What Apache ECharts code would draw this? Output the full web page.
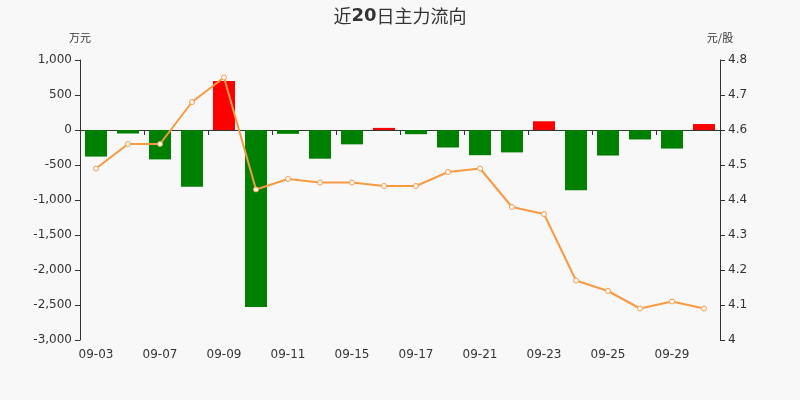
<!DOCTYPE html>
<html>
<head>
<meta charset="utf-8">
<script src="https://cdn.jsdelivr.net/npm/echarts@6/dist/echarts.min.js"></script>
<style>html,body{margin:0;padding:0;background:#f8f8f8;}#c{width:800px;height:400px;}</style>
</head>
<body>
<div id="c"></div>
<script>
var categories = ['09-03','09-04','09-07','09-08','09-09','09-10','09-11','09-14','09-15','09-16','09-17','09-18','09-21','09-22','09-23','09-24','09-25','09-28','09-29','09-30'];
var flowValues = [-380,-50,-420,-810,700,-2530,-55,-410,-205,30,-60,-250,-360,-320,125,-860,-365,-135,-265,85];
var priceValues = [4.49,4.56,4.56,4.68,4.75,4.43,4.46,4.45,4.45,4.44,4.44,4.48,4.49,4.38,4.36,4.17,4.14,4.09,4.11,4.09];
var leftTicks = {min:-3000, max:1000, interval:500};
var rightTicks = {min:4, max:4.8, interval:0.1};

var chart = echarts.init(document.getElementById('c'));
var labelColor = '#333';
chart.setOption({
  backgroundColor: '#f8f8f8',
  animation: false,
  title: {
    text: '近{b|20}日主力流向',
    left: 'center', top: 2,
    textStyle: {fontSize: 18, fontWeight: 'normal', color: '#333', fontFamily: 'Noto Sans CJK SC',
      rich: {b: {fontSize: 18, fontWeight: 'bold', color: '#333', fontFamily: 'DejaVu Sans'}}}
  },
  grid: {left: 80, right: 80, top: 60, bottom: 60},
  xAxis: [{
    type: 'category', data: categories, position: 'bottom',
    axisLine: {onZero: true, lineStyle: {color: '#333'}},
    axisTick: {show: true, interval: 1, length: 5, lineStyle: {color: '#333'}},
    axisLabel: {show: false}
  }, {
    type: 'category', data: categories, position: 'bottom',
    axisLine: {show: false, onZero: false},
    axisTick: {show: false},
    axisLabel: {interval: 1, color: labelColor, fontSize: 12, margin: 9, fontFamily: 'DejaVu Sans'}
  }],
  yAxis: [{
    type: 'value', name: '万元', position: 'left',
    min: leftTicks.min, max: leftTicks.max, interval: leftTicks.interval,
    nameTextStyle: {color: labelColor, fontSize: 11, align: 'center', fontFamily: 'Noto Sans CJK SC'},
    nameGap: 17,
    axisLine: {show: true, lineStyle: {color: '#333'}},
    axisTick: {show: true, length: 5, lineStyle: {color: '#333'}},
    splitLine: {show: false},
    axisLabel: {color: labelColor, fontSize: 12, fontFamily: 'DejaVu Sans', formatter: function(v){ return v.toLocaleString('en-US'); }}
  }, {
    type: 'value', name: '元/股', position: 'right',
    min: rightTicks.min, max: rightTicks.max, interval: rightTicks.interval,
    nameTextStyle: {color: labelColor, fontSize: 11, align: 'center', fontFamily: 'Noto Sans CJK SC'},
    nameGap: 17,
    axisLine: {show: true, lineStyle: {color: '#333'}},
    axisTick: {show: true, length: 5, lineStyle: {color: '#333'}},
    splitLine: {show: false},
    axisLabel: {color: labelColor, fontSize: 12, fontFamily: 'DejaVu Sans', formatter: function(v){ return String(Math.round(v*10)/10); }}
  }],
  series: [{
    type: 'bar', xAxisIndex: 0, yAxisIndex: 0,
    barWidth: 22,
    data: flowValues.map(function(v){ return {value: v, itemStyle: {color: v >= 0 ? '#ff0000' : '#008000'}}; })
  }, {
    type: 'line', xAxisIndex: 0, yAxisIndex: 1,
    data: priceValues,
    symbol: 'circle', symbolSize: 5,
    lineStyle: {color: '#f89a44', width: 2},
    itemStyle: {color: '#ffffff', borderColor: '#f89a44', borderWidth: 1}
  }]
});
</script>
</body>
</html>
